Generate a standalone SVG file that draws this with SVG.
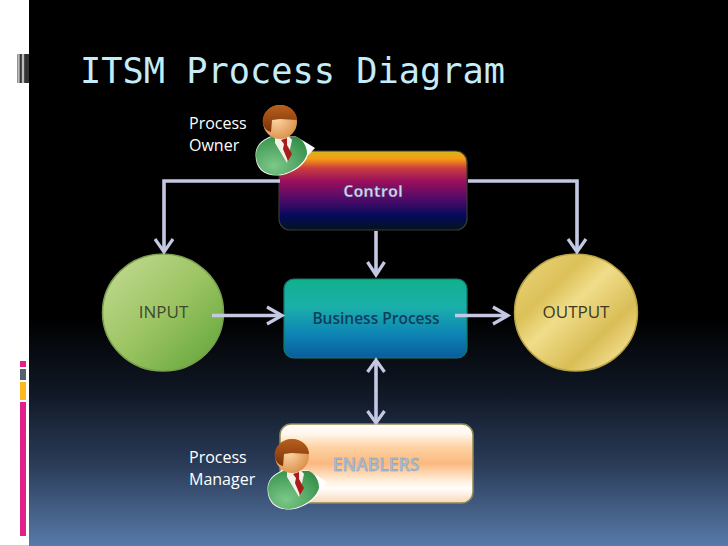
<svg xmlns="http://www.w3.org/2000/svg" xmlns:xlink="http://www.w3.org/1999/xlink" width="728" height="546" viewBox="0 0 728 546">
<style>
.lbl{font-family:"Open Sans","Noto Sans",sans-serif;font-size:16px;fill:#fff}
.dark{font-family:"Open Sans","Noto Sans",sans-serif;font-size:17px;text-anchor:middle}
.box{font-family:"Open Sans","Noto Sans",sans-serif;text-anchor:middle;font-weight:600}
.cl{fill:none;stroke:#c4c8e2;stroke-width:3.6;stroke-linejoin:miter}
.hd{fill:none;stroke:#c4c8e2;stroke-width:3.2}
</style>
<defs>
<linearGradient id="bg" x1="0" y1="0" x2="0" y2="1"><stop offset="0" stop-color="#000"/><stop offset=".58" stop-color="#000"/><stop offset=".72" stop-color="#101826"/><stop offset=".85" stop-color="#2a3b58"/><stop offset="1" stop-color="#587aa9"/></linearGradient>
<linearGradient id="ctl" x1="0" y1="0" x2="0" y2="1"><stop offset="0" stop-color="#d6b820"/><stop offset=".1" stop-color="#f79a14"/><stop offset=".22" stop-color="#c83c3e"/><stop offset=".38" stop-color="#9a0f5c"/><stop offset=".6" stop-color="#530b68"/><stop offset=".82" stop-color="#040a5c"/><stop offset="1" stop-color="#02141c"/></linearGradient>
<linearGradient id="bp" x1="0" y1="0" x2="0" y2="1"><stop offset="0" stop-color="#12b08c"/><stop offset=".35" stop-color="#1bb0aa"/><stop offset=".7" stop-color="#0d84b4"/><stop offset="1" stop-color="#0a5c9c"/></linearGradient>
<linearGradient id="en" x1="0" y1="0" x2="0" y2="1"><stop offset="0" stop-color="#fffef8"/><stop offset=".12" stop-color="#fff8ee"/><stop offset=".3" stop-color="#fdd2a0"/><stop offset=".5" stop-color="#fbb880"/><stop offset=".72" stop-color="#fff0dc"/><stop offset=".82" stop-color="#fffdfb"/><stop offset="1" stop-color="#f8d8b8"/></linearGradient>
<linearGradient id="gc" x1="0" y1="0" x2="1" y2="1"><stop offset="0" stop-color="#c6dc96"/><stop offset=".5" stop-color="#9cc463"/><stop offset="1" stop-color="#5da336"/></linearGradient>
<linearGradient id="yc" x1="0" y1="0" x2="1" y2="1"><stop offset="0" stop-color="#eed77f"/><stop offset=".3" stop-color="#dcc159"/><stop offset=".45" stop-color="#f0dd8a"/><stop offset=".7" stop-color="#d9bd56"/><stop offset=".85" stop-color="#eed883"/><stop offset="1" stop-color="#cfb049"/></linearGradient>
<radialGradient id="face" cx=".4" cy=".4" r=".7"><stop offset="0" stop-color="#fbd8a8"/><stop offset="1" stop-color="#d98a42"/></radialGradient>
<linearGradient id="hair" x1="0" y1="0" x2="0" y2="1"><stop offset="0" stop-color="#b8601c"/><stop offset="1" stop-color="#7a3208"/></linearGradient>
<radialGradient id="suit" cx=".35" cy=".75" r=".9"><stop offset="0" stop-color="#7cc888"/><stop offset="1" stop-color="#2f8a44"/></radialGradient>
<g id="person">
<path d="M-24.500 18C-24.500 8-18 3-10-.5L16-.5 27 6 35 11 27.500 19 27 21C22 31 8 38.500-3 38.500-17 38.500-24.500 31-24.500 18Z" fill="#fff"/>
<path d="M-24 18C-24 8-17 4-9 0L17 0C23 3 27 9 27 17 24 28 10 37-3 38-16 38-24 30-24 18Z" fill="url(#suit)"/>
<path d="M-5 0L7-3 12 3 7 26 -5 6Z" fill="#f4f1ea"/>
<path d="M1 3L7 1 7 8 12 17 8 24 3 12 4 7Z" fill="#a81c1c"/>
<circle cx="0" cy="-15" r="17" fill="url(#face)"/>
<path d="M-17-13C-19-24-10-32 0-32 10-32 17-25 17-17L0-18-8-17-9-5C-13-6-16-9-17-13Z" fill="url(#hair)"/>
</g>
</defs>
<rect width="728" height="546" fill="#fff"/>
<rect x="29" width="699" height="546" fill="url(#bg)"/>
<g id="sidebar">
<rect x="17" y="54" width="12" height="29" fill="#333"/>
<path d="M18.500 54v29M23 54v29" stroke="#bbb" stroke-width="2.400" fill="none"/>
<rect x="20" y="361" width="6" height="6" fill="#e0218a"/>
<rect x="20" y="369" width="6" height="11" fill="#55606f"/>
<rect x="20" y="382" width="6" height="18" fill="#fdb81e"/>
<rect x="20" y="402" width="6" height="134" fill="#e0218a"/>
<rect x="0" y="545" width="29" height="1" fill="#ccc"/>
</g>
<text x="80" y="83" font-family="'DejaVu Sans Mono',monospace" font-size="35.300px" fill="#c5ecf9">ITSM Process Diagram</text>
<g id="control"><rect x="279" y="151" width="188" height="79" rx="11" fill="url(#ctl)" stroke="#3a3a32" stroke-width="1.200"/><text class="box" x="373" y="197" font-size="16" font-weight="700" style="font-weight:700" fill="#d2d6f0" stroke="#33336a" stroke-width=".3">Control</text></g>
<g id="business-process"><rect x="284" y="279" width="183" height="79" rx="10" fill="url(#bp)" stroke="#177a6a" stroke-width="1.200"/><text class="box" x="376" y="324" font-size="15.500" fill="#0d3d5e">Business Process</text></g>
<g id="enablers"><rect x="280" y="424" width="193" height="79" rx="11" fill="url(#en)" stroke="#8a8a58" stroke-width="1.500"/><text class="box" x="376" y="471" font-size="17.500" fill="#a9c0d6" stroke="#7f97ad" stroke-width=".4">ENABLERS</text></g>
<g id="input"><ellipse cx="163" cy="312.500" rx="60.500" ry="58.500" fill="url(#gc)" stroke="#7ba04c" stroke-width="1.500"/><text class="dark" x="163.500" y="318" fill="#3d4a30">INPUT</text></g>
<g id="output"><ellipse cx="576" cy="312.500" rx="61.500" ry="58.500" fill="url(#yc)" stroke="#b8a344" stroke-width="1.500"/><text class="dark" x="576" y="318" font-size="17.500" fill="#3d3a20">OUTPUT</text></g>
<g id="connectors">
<path class="cl" d="M280 181H164V250"/><path class="hd" d="M155 239L164 252 173 239"/>
<path class="cl" d="M468 181H577V250"/><path class="hd" d="M568 239L577 252 586 239"/>
<path class="cl" d="M376 231V273"/><path class="hd" d="M367.500 262L376 275 384.500 262"/>
<path class="cl" d="M212 315.500H281"/><path class="hd" d="M267 307L282 315.500 267 324"/>
<path class="cl" d="M455 315.500H507"/><path class="hd" d="M493 307L508 315.500 493 324"/>
<path class="cl" d="M376 362V421"/><path class="hd" d="M367.500 372L376 360 384.500 372M367.500 411L376 423 384.500 411"/>
</g>
<g id="process-owner"><text class="lbl" x="189" y="129">Process</text><text class="lbl" x="189" y="151">Owner</text><use xlink:href="#person" href="#person" x="280" y="137"/></g>
<g id="process-manager"><text class="lbl" x="189" y="463">Process</text><text class="lbl" x="189" y="485">Manager</text><use xlink:href="#person" href="#person" x="292" y="471"/></g>
</svg>
